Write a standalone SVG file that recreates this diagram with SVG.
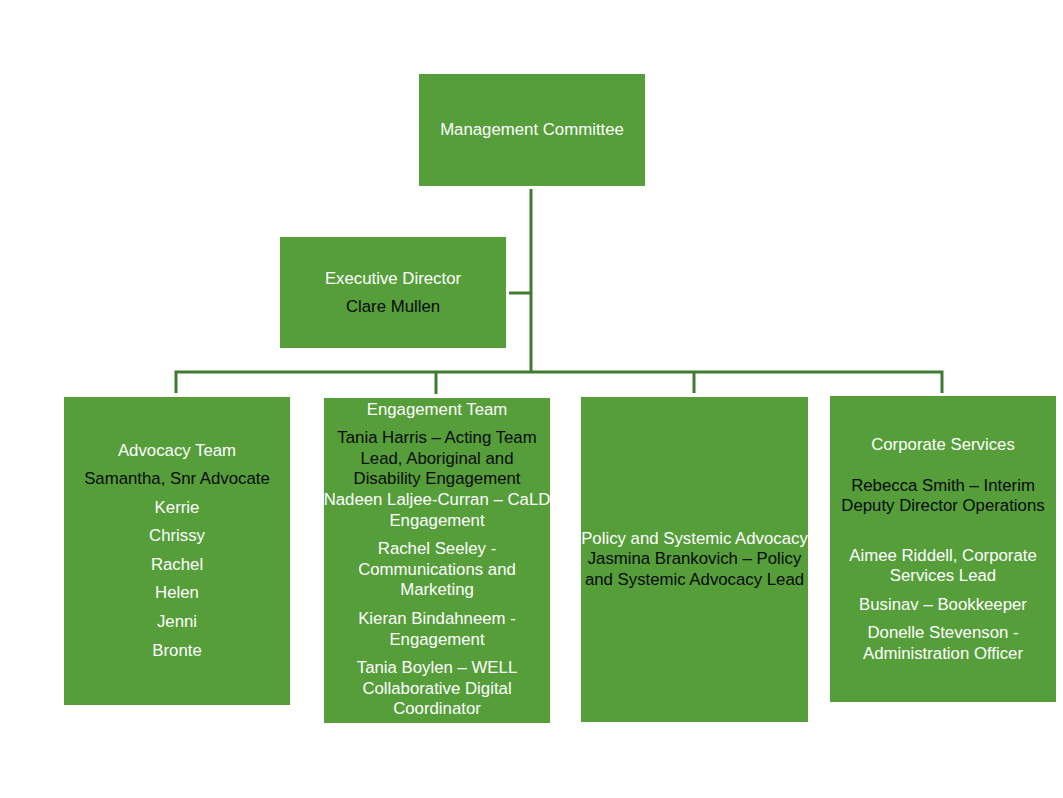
<svg xmlns="http://www.w3.org/2000/svg" width="1063" height="798" viewBox="0 0 1063 798">
<style>
.box{fill:#559E3A;}
.ln{stroke:#3F7B30;stroke-width:3;fill:none;}
text{font-family:"Liberation Sans",Arial,sans-serif;font-size:16.8px;text-anchor:middle;}
.w{fill:#FFFFFF;}
.k{fill:#0A0A0A;}
</style>
<rect width="1063" height="798" fill="#FFFFFF"/>
<g id="connectors">
<path class="ln" d="M531,189 V371"/>
<path class="ln" d="M509,293 H531"/>
<path class="ln" d="M176,393 V372 H942 V393"/>
<path class="ln" d="M436,372 V394"/>
<path class="ln" d="M694,372 V393"/>
</g>
<g id="management">
<rect class="box" x="419" y="74" width="226" height="112"/>
<text class="w" x="532" y="135">Management Committee</text>
</g>
<g id="executive">
<rect class="box" x="280" y="237" width="226" height="111"/>
<text class="w" x="393" y="284">Executive Director</text>
<text class="k" x="393" y="312">Clare Mullen</text>
</g>
<g id="advocacy">
<rect class="box" x="64" y="397" width="226" height="308"/>
<text class="w" x="177" y="456">Advocacy Team</text>
<text class="k" x="177" y="484">Samantha, Snr Advocate</text>
<text class="w" x="177" y="513">Kerrie</text>
<text class="w" x="177" y="541">Chrissy</text>
<text class="w" x="177" y="570">Rachel</text>
<text class="w" x="177" y="598">Helen</text>
<text class="w" x="177" y="627">Jenni</text>
<text class="w" x="177" y="656">Bronte</text>
</g>
<g id="engagement">
<rect class="box" x="324" y="398" width="226" height="325"/>
<text class="w" x="437" y="415">Engagement Team</text>
<text class="k" x="437" y="443">Tania Harris – Acting Team</text>
<text class="k" x="437" y="464">Lead, Aboriginal and</text>
<text class="k" x="437" y="484">Disability Engagement</text>
<text class="w" x="437" y="505">Nadeen Laljee-Curran – CaLD</text>
<text class="w" x="437" y="526">Engagement</text>
<text class="w" x="437" y="554">Rachel Seeley -</text>
<text class="w" x="437" y="575">Communications and</text>
<text class="w" x="437" y="595">Marketing</text>
<text class="w" x="437" y="624">Kieran Bindahneem -</text>
<text class="w" x="437" y="645">Engagement</text>
<text class="w" x="437" y="673">Tania Boylen – WELL</text>
<text class="w" x="437" y="694">Collaborative Digital</text>
<text class="w" x="437" y="714">Coordinator</text>
</g>
<g id="policy">
<rect class="box" x="581" y="397" width="227" height="325"/>
<text class="w" x="694.5" y="544">Policy and Systemic Advocacy</text>
<text class="k" x="694.5" y="564">Jasmina Brankovich – Policy</text>
<text class="k" x="694.5" y="585">and Systemic Advocacy Lead</text>
</g>
<g id="corporate">
<rect class="box" x="830" y="396" width="226" height="306"/>
<text class="w" x="943" y="450">Corporate Services</text>
<text class="k" x="943" y="491">Rebecca Smith – Interim</text>
<text class="k" x="943" y="511">Deputy Director Operations</text>
<text class="w" x="943" y="561">Aimee Riddell, Corporate</text>
<text class="w" x="943" y="581">Services Lead</text>
<text class="w" x="943" y="610">Businav – Bookkeeper</text>
<text class="w" x="943" y="638">Donelle Stevenson -</text>
<text class="w" x="943" y="659">Administration Officer</text>
</g>
</svg>
